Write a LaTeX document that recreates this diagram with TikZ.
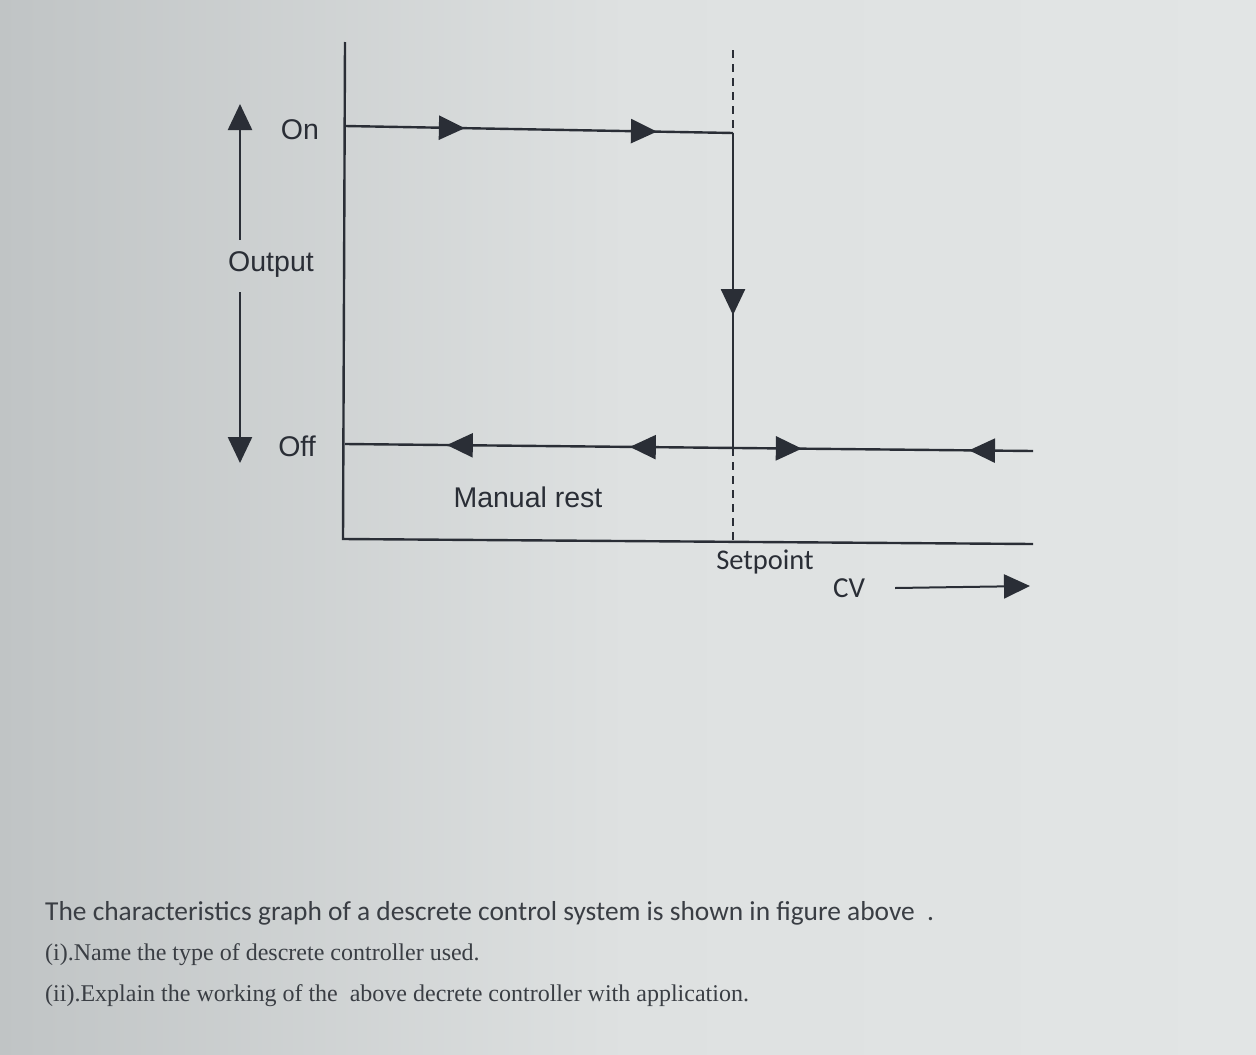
\documentclass[tikz,border=0pt]{standalone}
\usepackage{fontspec}
\setmainfont{Liberation Sans}
\newfontfamily\calfont{Carlito}
\newfontfamily\serfont{Liberation Serif}
\usetikzlibrary{arrows.meta,decorations.markings}

\definecolor{inkc}{RGB}{42,46,54}
\definecolor{txtc}{RGB}{58,62,68}
\definecolor{bgleft}{RGB}{192,196,197}
\definecolor{bgmid}{RGB}{222,225,225}
\definecolor{bgright}{RGB}{226,229,229}

\tikzset{
  ax/.style={line width=2.4pt, draw=inkc},
  lbl/.style={inner sep=0pt, text=inkc, font=\fontsize{28.5}{32}\selectfont},
  headtip/.style={-{Triangle[length=26pt,width=24pt]}},
  fwd/.style={postaction={decorate,decoration={markings,
      mark=at position #1 with {\arrow[inkc]{Triangle[length=26pt,width=24pt]}}}}},
  bwd/.style={postaction={decorate,decoration={markings,
      mark=at position #1 with {\arrowreversed[inkc]{Triangle[length=26pt,width=24pt]}}}}},
  spline/.style={line width=1.8pt, draw=inkc, dash pattern=on 8pt off 6pt},
  quest/.style={anchor=west, inner sep=0pt, text=txtc}
}

\begin{document}
\begin{tikzpicture}[x=1pt, y=-1pt]
  % background
  \fill[left color=bgleft, right color=bgright, middle color=bgmid] (0,0) rectangle (1256,1055);
  \useasboundingbox (0,0) rectangle (1256,1055);

  % points of the graph
  \coordinate (top) at (345,42);
  \coordinate (org) at (343,539);
  \coordinate (axr) at (1033,544);
  \coordinate (onl) at (345,126);
  \coordinate (onr) at (733,133);
  \coordinate (offl) at (345,444);
  \coordinate (sp) at (733,448);
  \coordinate (offr) at (1033,451);
  \coordinate (sptop) at (733,50);
  \coordinate (spbot) at (733,541);

  % axes
  \draw[ax] (top) -- (org) -- (axr);

  % setpoint line
  \draw[spline] (sptop) -- (onr);
  \draw[spline] (sp) -- (spbot);

  % on / off characteristic
  \draw[ax, fwd=0.309, fwd=0.804] (onl) -- (onr);
  \draw[ax, fwd=0.578] (onr) -- (sp);
  \draw[ax, bwd=0.148, bwd=0.414, fwd=0.664, bwd=0.907] (offl) -- (offr);

  % labels
  \node[lbl] (on) at (300,130) {On};
  \node[lbl] (output) at (271,265) {Output};
  \node[lbl] (off) at (297,446) {Off};
  \node[lbl] (manual) at (528,497) {Manual rest};
  \node[lbl, font=\calfont\fontsize{28.5}{32}\selectfont] (setpoint) at (765,562) {Setpoint};
  \node[lbl, font=\calfont\fontsize{29}{32}\selectfont] (cv) at (849,588) {CV};

  % output and cv arrows
  \coordinate (cvtip) at (1030,586);
  \coordinate (uptip) at (240,104);
  \coordinate (dntip) at (240,463);
  \draw[ax, headtip] (output.north -| uptip) ++(0,-12) -- (uptip);
  \draw[ax, headtip] (output.south -| dntip) ++(0,14) -- (dntip);
  \draw[ax, line width=2pt, headtip] (cv.east) ++(30,0) -- (cvtip);

  % question text
  \node[quest, font=\calfont\fontsize{27.4}{30}\selectfont] (q0) at (45,913)
    {The characteristics graph of a descrete control system is shown in figure above\ \ .};
  \node[quest, font=\serfont\fontsize{24}{28}\selectfont] (q1) at (45,955)
    {(i).Name the type of descrete controller used.};
  \node[quest, font=\serfont\fontsize{24}{28}\selectfont] (q2) at (45,996)
    {(ii).Explain the working of the\ \ above decrete controller with application.};
\end{tikzpicture}
\end{document}
